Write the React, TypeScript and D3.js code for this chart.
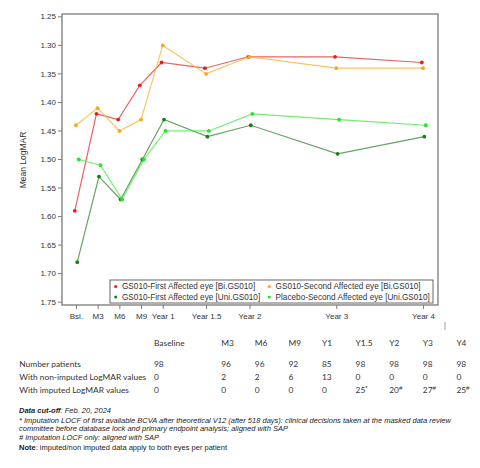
import * as d3 from "d3";

// months from baseline
const timepoints = [0, 3, 6, 9, 12, 18, 24, 36, 48];
const tickLabels = ["Bsl.", "M3", "M6", "M9", "Year 1", "Year 1.5", "Year 2", "Year 3", "Year 4"];
const yTicks = [1.25, 1.3, 1.35, 1.4, 1.45, 1.5, 1.55, 1.6, 1.65, 1.7, 1.75];

const firstBi = [1.59, 1.42, 1.43, 1.37, 1.33, 1.34, 1.32, 1.32, 1.33];
const secondBi = [1.44, 1.41, 1.45, 1.43, 1.3, 1.35, 1.32, 1.34, 1.34];
const firstUni = [1.68, 1.53, 1.57, 1.5, 1.43, 1.46, 1.44, 1.49, 1.46];
const placeboUni = [1.5, 1.51, 1.57, 1.5, 1.45, 1.45, 1.42, 1.43, 1.44];

const seriesNames = [
    "GS010-First Affected eye [Bi.GS010]",
    "GS010-Second Affected eye [Bi.GS010]",
    "GS010-First Affected eye [Uni.GS010]",
    "Placebo-Second Affected eye [Uni.GS010]"
];

const tableHeaders = ["Baseline", "M3", "M6", "M9", "Y1", "Y1.5", "Y2", "Y3", "Y4"];
const rowLabels = ["Number patients", "With non-imputed LogMAR values", "With imputed LogMAR values"];
const numberPatients = [98, 96, 96, 92, 85, 98, 98, 98, 98];
const nonImputed = [0, 2, 2, 6, 13, 0, 0, 0, 0];
const imputed = [0, 0, 0, 0, 0, 25, 20, 27, 25];
const imputedMarks = ["", "", "", "", "", "*", "#", "#", "#"];

const series = [
    { name: seriesNames[0], values: firstBi, dot: "#ee1c1c", line: "#e23c3c", dx: -1.7 },
    { name: seriesNames[1], values: secondBi, dot: "#ffa51a", line: "#f6b73c", dx: -0.5 },
    { name: seriesNames[2], values: firstUni, dot: "#12801a", line: "#3a8f3a", dx: 0.8 },
    { name: seriesNames[3], values: placeboUni, dot: "#22e622", line: "#4fe84f", dx: 2.3 }
];

const W = 480;
const H = 468;
const chartFont = "'Liberation Sans', Arial, sans-serif";
const tableFont = "Lato, 'Open Sans', sans-serif";

export default function App() {
    const x = d3.scaleLinear().domain([-2, 50]).range([62, 438]);
    const y = d3.scaleLinear().domain([1.245, 1.755]).range([14, 305]);
    const [top, bottom] = y.range();
    const [left, right] = x.range();

    // table column slots: Baseline gets a double gap
    const slots = [0, 2, 3, 4, 5, 6, 7, 8, 9];
    const col = d3.scaleLinear().domain([0, 9]).range([154, 456.4]);
    const rowY = [366.5, 379.5, 392.5];

    const legendItems = [
        { s: series[0], cx: 115.7, cy: 286.5 },
        { s: series[1], cx: 269.3, cy: 286.5 },
        { s: series[2], cx: 115.7, cy: 297 },
        { s: series[3], cx: 269.3, cy: 297 }
    ];

    return (
        <svg width={W} height={H} style={{ position: "absolute", left: 0, top: 0, background: "#fff" }}>
            <g fontFamily={chartFont} fill="#333">
                {/* frame */}
                <rect x={left} y={top} width={right - left} height={bottom - top} fill="none" stroke="#7a7a7a" strokeWidth={1.3} />

                {/* y axis */}
                {yTicks.map(t => (
                    <g key={t}>
                        <line x1={left - 4} x2={left} y1={y(t)} y2={y(t)} stroke="#7a7a7a" />
                        <text x={left - 6} y={y(t)} dy="0.33em" textAnchor="end" fontSize={8}>
                            {t.toFixed(2)}
                        </text>
                    </g>
                ))}
                <text transform={`translate(26, 160) rotate(-90)`} textAnchor="middle" fontSize={8.5}>
                    Mean LogMAR
                </text>

                {/* x axis */}
                {timepoints.map((t, i) => (
                    <g key={t}>
                        <line x1={x(t)} x2={x(t)} y1={bottom} y2={bottom + 4} stroke="#7a7a7a" />
                        <text x={x(t)} y={bottom + 14} textAnchor="middle" fontSize={8}>
                            {tickLabels[i]}
                        </text>
                    </g>
                ))}

                {/* series */}
                {series.map(s => {
                    const line = d3
                        .line<number>()
                        .x((_, i) => x(timepoints[i]) + s.dx)
                        .y(d => y(d));
                    return (
                        <g key={s.name}>
                            <path d={line(s.values) ?? ""} fill="none" stroke={s.line} strokeWidth={1.2} strokeOpacity={0.8} />
                            {s.values.map((v, i) => (
                                <circle key={i} cx={x(timepoints[i]) + s.dx} cy={y(v)} r={1.9} fill={s.dot} />
                            ))}
                        </g>
                    );
                })}

                {/* legend */}
                <rect x={110} y={280} width={323} height={23} fill="#fff" stroke="#555" strokeWidth={0.9} />
                {legendItems.map(({ s, cx, cy }) => (
                    <g key={s.name}>
                        <circle cx={cx} cy={cy} r={1.5} fill={s.dot} />
                        <text x={cx + 6.3} y={cy} dy="0.35em" fontSize={8.2}>
                            {s.name}
                        </text>
                    </g>
                ))}

                <line x1={445} x2={445} y1={322} y2={330} stroke="#bdbdbd" strokeWidth={1.4} />
            </g>

            {/* table */}
            <g fontFamily={tableFont} fontSize={8.4} fill="#333">
                {tableHeaders.map((h, i) => (
                    <text key={h} x={col(slots[i])} y={345.5}>
                        {h}
                    </text>
                ))}
                {rowLabels.map((r, j) => (
                    <text key={r} x={19.3} y={rowY[j]}>
                        {r}
                    </text>
                ))}
                {numberPatients.map((v, i) => (
                    <text key={i} x={col(slots[i])} y={rowY[0]}>
                        {v}
                    </text>
                ))}
                {nonImputed.map((v, i) => (
                    <text key={i} x={col(slots[i])} y={rowY[1]}>
                        {v}
                    </text>
                ))}
                {imputed.map((v, i) => (
                    <text key={i} x={col(slots[i])} y={rowY[2]}>
                        {v}
                        {imputedMarks[i] && (
                            <tspan dy={-2.5} fontSize={6.2} fontFamily={chartFont}>
                                {imputedMarks[i]}
                            </tspan>
                        )}
                    </text>
                ))}
            </g>

            {/* footnotes */}
            <g fontFamily={chartFont} fontSize={7.5} fill="#222">
                <text x={19} y={412.8} fontStyle="italic">
                    <tspan fontWeight="bold">Data cut-off</tspan>: Feb. 20, 2024
                </text>
                <text x={19} y={423.3} fontStyle="italic">
                    * Imputation LOCF of first available BCVA after theoretical V12 (after 518 days): clinical decisions taken at the masked data review
                </text>
                <text x={19} y={431} fontStyle="italic">
                    committee before database lock and primary endpoint analysis; aligned with SAP
                </text>
                <text x={19} y={440.3} fontStyle="italic">
                    # Imputation LOCF only: aligned with SAP
                </text>
                <text x={19} y={450}>
                    <tspan fontWeight="bold">Note</tspan>: imputed/non imputed data apply to both eyes per patient
                </text>
            </g>
        </svg>
    );
}
